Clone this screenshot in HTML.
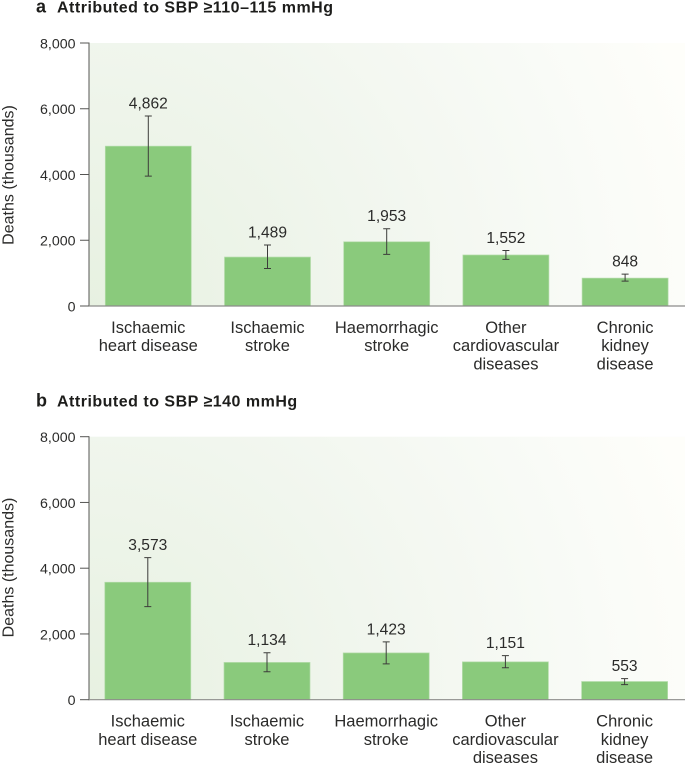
<!DOCTYPE html>
<html lang="en">
<head>
<meta charset="utf-8">
<title>Deaths attributed to raised systolic blood pressure</title>
<style>
html,body{margin:0;padding:0;background:#fff;}
body{width:685px;height:764px;overflow:hidden;}
svg{display:block;font-family:"Liberation Sans",sans-serif;}
</style>
</head>
<body>
<svg id="chart" xmlns="http://www.w3.org/2000/svg" width="685" height="764" viewBox="0 0 685 764">
  <defs>
    <radialGradient id="bgA" gradientUnits="userSpaceOnUse" cx="89" cy="306" r="640">
      <stop offset="0" stop-color="#e7f1e1"/>
      <stop offset="0.45" stop-color="#f1f6ee"/>
      <stop offset="0.8" stop-color="#f9fbf7"/>
      <stop offset="1" stop-color="#fefefa"/>
    </radialGradient>
    <radialGradient id="bgB" gradientUnits="userSpaceOnUse" cx="89" cy="700" r="640">
      <stop offset="0" stop-color="#e7f1e1"/>
      <stop offset="0.45" stop-color="#f1f6ee"/>
      <stop offset="0.8" stop-color="#f9fbf7"/>
      <stop offset="1" stop-color="#fefefa"/>
    </radialGradient>
  </defs>
</svg>
<script>
var categories = [
  ['Ischaemic', 'heart disease'],
  ['Ischaemic', 'stroke'],
  ['Haemorrhagic', 'stroke'],
  ['Other', 'cardiovascular', 'diseases'],
  ['Chronic', 'kidney', 'disease']
];
var yTicks = [0, 2000, 4000, 6000, 8000];
var yMax = 8000;

var valuesA = [4862, 1489, 1953, 1552, 848];
var errHighA = [5780, 1855, 2350, 1690, 970];
var errLowA = [3950, 1140, 1570, 1420, 755];

var valuesB = [3573, 1134, 1423, 1151, 553];
var errHighB = [4320, 1430, 1760, 1340, 640];
var errLowB = [2830, 850, 1090, 970, 460];

var svg = document.getElementById('chart');
var NS = 'http://www.w3.org/2000/svg';

function make(tag, attrs, text) {
  var el = document.createElementNS(NS, tag);
  for (var k in attrs) el.setAttribute(k, attrs[k]);
  if (text !== undefined) el.textContent = text;
  return el;
}
function fmt(v) {
  return String(v).replace(/\B(?=(\d{3})+$)/g, ',');
}

function drawPanel(p) {
  var left = 89, right = 685, barW = 86, firstC = 148.3 + p.dx, step = 119.2;
  function y(v) { return p.y0 - (v / yMax) * (p.y0 - p.y8); }
  function x(i) { return firstC + i * step; }

  var g = make('g', {});
  
  
  svg.appendChild(g);

  var letter = make('text', {x: 36, y: p.titleY, 'font-size': 18, 'font-weight': 'bold', fill: '#1d1d1b'}, p.letter);
  
  
  g.appendChild(letter);

  var title = make('text', {x: 57, y: p.titleY, 'font-size': 16, 'letter-spacing': 0.5, 'font-weight': 'bold', fill: '#1d1d1b'}, p.title);
  
  
  g.appendChild(title);

  var bg = make('rect', {x: left, y: p.y8, width: right - left, height: p.y0 - p.y8, fill: p.fill});
  
  
  g.appendChild(bg);

  p.values.forEach(function (v, i) {
    var bar = make('rect', {x: x(i) - barW / 2, y: y(v), width: barW, height: p.y0 - y(v), fill: '#8aca7c', stroke: '#b4dcaa', 'stroke-width': 0.7});
    
    
    g.appendChild(bar);

    var hi = y(p.high[i]), lo = y(p.low[i]), cx = x(i);
    var eb = make('path', {
      d: 'M' + (cx - 3.5) + ' ' + hi + 'H' + (cx + 3.5) + 'M' + cx + ' ' + hi + 'V' + lo + 'M' + (cx - 3.5) + ' ' + lo + 'H' + (cx + 3.5),
      fill: 'none', stroke: '#3c3c3a', 'stroke-width': 1
    });
    
    
    g.appendChild(eb);

    var label = make('text', {x: cx, y: hi - 7.5, 'text-anchor': 'middle', 'font-size': 15.6, fill: '#2b2b2a'}, fmt(v));
    
    
    g.appendChild(label);

    categories[i].forEach(function (line, j) {
      var cat = make('text', {x: cx, y: p.y0 + 27 + j * 18.2, 'text-anchor': 'middle', 'font-size': 16.5, fill: '#2b2b2a'}, line);
      
      
      g.appendChild(cat);
    });
  });

  yTicks.forEach(function (t) {
    var tick = make('line', {x1: 80, x2: left, y1: y(t), y2: y(t), stroke: '#555553', 'stroke-width': 1});
    
    
    g.appendChild(tick);

    var tl = make('text', {x: 75.5, y: y(t) + 5.3, 'text-anchor': 'end', 'font-size': 14.2, fill: '#2b2b2a'}, fmt(t));
    
    
    g.appendChild(tl);
  });

  var yAxis = make('line', {x1: left, x2: left, y1: p.y8 - 0.5, y2: p.y0 + 0.5, stroke: '#555553', 'stroke-width': 1});
  
  
  g.appendChild(yAxis);

  var xAxis = make('line', {x1: left, x2: right, y1: p.y0, y2: p.y0, stroke: '#8c8c8a', 'stroke-width': 1.2});
  
  
  g.appendChild(xAxis);

  var yt = make('text', {x: 13.5, y: p.yTitleC, 'text-anchor': 'middle', 'font-size': 16, fill: '#2b2b2a', transform: 'rotate(-90 13.5 ' + p.yTitleC + ')'}, 'Deaths (thousands)');
  
  
  g.appendChild(yt);
}

drawPanel({
  id: 'panel-a', letter: 'a', title: 'Attributed to SBP \u2265110\u2013115 mmHg',
  titleY: 12.5, y0: 306, y8: 43, dx: 0, fill: 'url(#bgA)', yTitleC: 175,
  values: valuesA, high: errHighA, low: errLowA
});
drawPanel({
  id: 'panel-b', letter: 'b', title: 'Attributed to SBP \u2265140 mmHg',
  titleY: 406.5, y0: 699.7, y8: 436.7, dx: -0.5, fill: 'url(#bgB)', yTitleC: 567.5,
  values: valuesB, high: errHighB, low: errLowB
});
</script>
</body>
</html>
